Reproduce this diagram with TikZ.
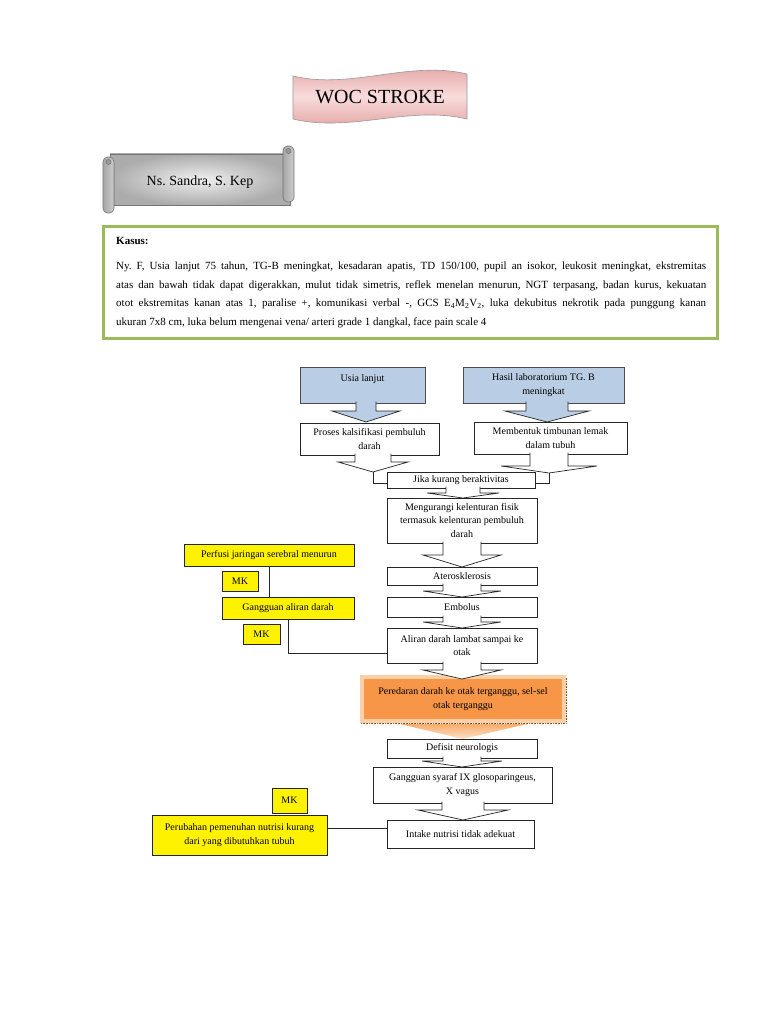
\documentclass[tikz,border=0pt]{standalone}
\usepackage{fontspec}
\setmainfont{Liberation Serif}
\usetikzlibrary{calc}
\definecolor{kgreen}{HTML}{9BBB59}
\definecolor{bluefill}{HTML}{B9CDE5}
\definecolor{orng}{HTML}{F79646}
\definecolor{peach}{HTML}{FBCFA8}
\definecolor{pinkA}{HTML}{E09C9B}
\definecolor{pinkB}{HTML}{F8DCDC}
\tikzset{
  fbox/.style={draw=black!85, line width=0.7pt, fill=white, inner sep=0pt, outer sep=0pt, align=flush center, font=\fontsize{10}{13.5}\selectfont},
  bluebx/.style={fbox, fill=bluefill, draw=black!70},
  yelbx/.style={fbox, fill=yellow},
  orbx/.style={fbox, fill=orng, draw=none},
  arrowshape/.style={draw=black!85, line width=0.7pt, line join=miter},
  conn/.style={draw=black!85, line width=0.7pt},
}
\newcommand\placebox[7]{%
  \pgfmathsetmacro\pbW{#5-#3}%
  \pgfmathsetmacro\pbH{#6-#4}%
  \pgfmathsetmacro\pbX{(#3+#5)/2}%
  \pgfmathsetmacro\pbY{(#4+#6)/2}%
  \pgfmathsetmacro\pbT{#5-#3-4}%
  \node[#1, minimum width=\pbW pt, minimum height=\pbH pt, text width=\pbT pt] (#2) at (\pbX,\pbY) {#7};}
% [fill]{cx}{shaft half}{ytop}{ybase}{wing half}{ytip}
\newcommand\callout[7][white]{%
  \path[arrowshape, fill=#1] (#2-#3,#4-1.5) -- (#2-#3,#5) -- (#2-#6,#5) -- (#2,#7) -- (#2+#6,#5) -- (#2+#3,#5) -- (#2+#3,#4-1.5);}
\frenchspacing
\begin{document}
\begin{tikzpicture}[x=1pt,y=-1pt]
\useasboundingbox (0,0) rectangle (768,1024);
\fill[white] (0,0) rectangle (768,1024);
% title banner
\path[draw=black!40, line width=0.6pt, top color=pinkA, bottom color=pinkA, middle color=pinkB]
  (293,76) .. controls (351,90) and (409,60) .. (467,74) -- (467,119)
  .. controls (409,105) and (351,133) .. (293,119) -- cycle;
\node[font=\fontsize{20}{24}\selectfont, inner sep=0] (title) at (380,97) {WOC STROKE};
% scroll
\path[draw=black!55, line width=0.6pt, inner color=gray!12, outer color=gray!65] (110,154) rectangle (290,205);
\path[draw=black!55, line width=0.6pt, left color=gray!70, right color=gray!40, rounded corners=4.5pt] (283,146) rectangle (294,202);
\path[draw=black!55, line width=0.5pt, fill=gray!80] (288.5,151) circle[radius=2.5pt];
\path[draw=black!55, line width=0.6pt, left color=gray!70, right color=gray!40, rounded corners=4.5pt] (103,157) rectangle (114,213);
\path[draw=black!55, line width=0.5pt, fill=gray!80] (108.5,162) circle[radius=2.5pt];
\node[font=\fontsize{14}{16}\selectfont, inner sep=0] (author) at (200,182) {Ns. Sandra, S. Kep};
% kasus
\node[draw=kgreen, line width=3pt, fill=white, minimum width=614pt, minimum height=111pt, inner sep=0] (kasus) at (410,282.5) {};
\node[anchor=north west, inner sep=0, align=left, font=\fontsize{11}{18.5}\selectfont] (kasustext) at (116,237) {\textbf{Kasus:}\\[7pt]
\makebox[590pt][s]{Ny. F, Usia lanjut 75 tahun, TG-B meningkat, kesadaran apatis, TD 150/100, pupil an isokor, leukosit meningkat, ekstremitas}\\
\makebox[590pt][s]{atas dan bawah tidak dapat digerakkan, mulut tidak simetris, reflek menelan menurun, NGT terpasang, badan kurus, kekuatan}\\
\makebox[590pt][s]{otot ekstremitas kanan atas 1, paralise +, komunikasi verbal -, GCS E\textsubscript{4}M\textsubscript{2}V\textsubscript{2}, luka dekubitus nekrotik pada punggung kanan}\\
ukuran 7x8 cm, luka belum mengenai vena/ arteri grade 1 dangkal, face pain scale 4};
% top boxes
\placebox{bluebx}{usia}{300}{367}{425}{403}{Usia lanjut\\\mbox{}}
\placebox{bluebx}{hasil}{463}{367}{624}{403}{Hasil laboratorium TG. B\\meningkat}
\placebox{fbox}{proses}{300}{423}{439}{455}{Proses kalsifikasi pembuluh\\darah}
\placebox{fbox}{membentuk}{474}{422}{627}{454}{Membentuk timbunan lemak\\dalam tubuh}
\callout[bluefill]{366}{10}{403}{411}{34}{422}
\callout[bluefill]{547}{21}{403}{411}{42}{422}
\callout{373}{18}{455}{462}{35}{472}
\callout{549}{19}{454}{466}{48}{473}
\coordinate (ptip) at (373,472);
\coordinate (mtip) at (549,473);
\placebox{fbox}{jika}{387}{472}{535}{488}{Jika kurang beraktivitas}
\draw[conn] (ptip) |- ([yshift=-3pt]jika.west);
\draw[conn] (mtip) |- ([yshift=-3pt]jika.east);
% middle column
\placebox{fbox}{meng}{387}{498}{537}{543}{Mengurangi kelenturan fisik\\termasuk kelenturan pembuluh\\darah}
\placebox{fbox}{ateros}{387}{567}{537}{585}{Aterosklerosis}
\placebox{fbox}{embolus}{387}{597}{537}{617}{Embolus}
\placebox{fbox}{aliran}{387}{628}{537}{663}{Aliran darah lambat sampai ke\\otak}
\fill[peach] (360,675) rectangle (566,723);
\draw[orng!55!black, densely dotted, line width=0.6pt] (361,723) -- (566,723) -- (566,677);
\placebox{orbx}{peredaran}{364}{679}{562}{719}{Peredaran darah ke otak terganggu, sel-sel\\otak terganggu}
\path[top color=orng!80, bottom color=peach!60] (400,724) -- (527,724) -- (463,739) -- cycle;
\placebox{fbox}{defisit}{387}{739}{537}{758}{Defisit neurologis}
\placebox{fbox}{syaraf}{373}{767}{552}{803}{Gangguan syaraf IX glosoparingeus,\\X vagus}
\placebox{fbox}{intake}{387}{820}{534}{848}{Intake nutrisi tidak adekuat}
\callout{463}{17}{488}{493}{36}{498}
\callout{462}{19}{543}{555}{39}{567}
\callout{462}{19}{585}{591}{39}{597}
\callout{462}{19}{617}{622}{39}{628}
\callout{462}{19}{663}{670}{39}{679}
\callout{462}{19}{758}{761}{40}{767}
\callout{463}{21}{803}{810}{45}{820}
% left yellow boxes
\placebox{yelbx}{perfusi}{184}{544}{354}{566}{Perfusi jaringan serebral menurun}
\placebox{yelbx}{mka}{222}{571}{258}{591}{MK}
\placebox{yelbx}{gangguan}{222}{597}{354}{619}{Gangguan aliran darah}
\placebox{yelbx}{mkb}{243}{624}{280}{644}{MK}
\placebox{yelbx}{mkc}{272}{788}{307}{813}{MK}
\placebox{yelbx}{perubahan}{152}{815}{327}{855}{Perubahan pemenuhan nutrisi kurang\\dari yang dibutuhkan tubuh}
\draw[conn] (perfusi.south) -- (perfusi.south |- gangguan.north);
\draw[conn] (gangguan.south) |- ([yshift=-7.5pt]aliran.west);
\draw[conn] ([yshift=7pt]perubahan.east) -- ([yshift=7pt]perubahan.east -| intake.west);
\end{tikzpicture}
\end{document}
